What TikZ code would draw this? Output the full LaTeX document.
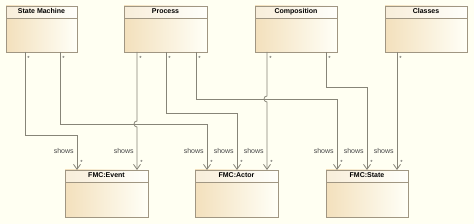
\documentclass[tikz,border=0pt]{standalone}
\usepackage{fontspec}
\setsansfont{Liberation Sans}
\usepackage{tikz}
\usetikzlibrary{arrows.meta}
\definecolor{paper}{RGB}{255,255,242}
\definecolor{boxtan}{RGB}{243,224,188}
\definecolor{boxline}{RGB}{160,150,130}
\definecolor{wire}{RGB}{135,133,120}
\definecolor{labelgray}{RGB}{70,70,70}

\begin{document}
\begin{tikzpicture}[x=1pt, y=1pt,
  cls/.style={rectangle, draw=boxline, line width=0.8pt, left color=boxtan, right color=paper!60!white,
    minimum height=46pt, inner sep=0pt, outer sep=0pt,
    path picture={
      \fill[white, opacity=0.45] (path picture bounding box.north west) rectangle ([yshift=-12pt]path picture bounding box.north east);
      \draw[boxline, line width=0.8pt] ([yshift=-12pt]path picture bounding box.north west) -- ([yshift=-12pt]path picture bounding box.north east);
    }},
  title/.style={anchor=north, inner sep=2pt, font=\sffamily\bfseries\fontsize{7}{8}\selectfont},
  shows/.style={-{Straight Barb[length=5pt, width=7pt]}, wire, line width=0.8pt},
  srcmul/.style={anchor=north west, inner sep=0pt, xshift=2pt, yshift=-4pt, font=\sffamily\fontsize{6}{6}\selectfont, text=labelgray},
  tgtmul/.style={anchor=south west, inner sep=0pt, xshift=3pt, yshift=5pt, font=\sffamily\fontsize{6}{6}\selectfont, text=labelgray},
  lbl/.style={anchor=east, inner sep=0pt, xshift=-3pt, yshift=19pt, font=\sffamily\fontsize{7}{8}\selectfont, text=labelgray}
]
\fill[paper] (0,0) rectangle (474,224);
\useasboundingbox (0,0) rectangle (474,224);

% source classes
\node[cls, minimum width=71pt, label={[title]north:State Machine}] (machine) at (41.5,195) {};
\node[cls, minimum width=83pt, label={[title]north:Process}] (process) at (165.5,195) {};
\node[cls, minimum width=82pt, label={[title]north:Composition}] (composition) at (296,195) {};
\node[cls, minimum width=82pt, label={[title]north:Classes}] (classes) at (426,195) {};

% FMC elements
\node[cls, minimum width=83pt, minimum height=47pt, label={[title]north:FMC:Event}] (event) at (106.5,30.5) {};
\node[cls, minimum width=83pt, minimum height=47pt, label={[title]north:FMC:Actor}] (actor) at (236.5,30.5) {};
\node[cls, minimum width=82pt, minimum height=47pt, label={[title]north:FMC:State}] (state) at (367,30.5) {};

% associations
\draw[shows] ([xshift=19pt]machine.south west) node[srcmul]{*} -- ++(0,-83) -| ([xshift=12pt]event.north west) node[tgtmul]{*} node[lbl]{shows};
\draw[shows] ([xshift=54pt]machine.south west) node[srcmul]{*} -- ++(0,-72) -| ([xshift=12pt]actor.north west) node[tgtmul]{*} node[lbl]{shows};
\draw[shows] ([xshift=13pt]process.south west) node[srcmul]{*} -- ++(0,-69) arc[start angle=90, end angle=270, radius=3] -- ([xshift=72pt]event.north west) node[tgtmul]{*} node[lbl]{shows};
\draw[shows] ([xshift=42pt]process.south west) node[srcmul]{*} -- ++(0,-61) -| ([xshift=42pt]actor.north west) node[tgtmul]{*} node[lbl]{shows};
\draw[shows] ([xshift=72pt]process.south west) node[srcmul]{*} -- ++(0,-47) -| ([xshift=11pt]state.north west) node[tgtmul]{*} node[lbl]{shows};
\draw[shows] ([xshift=12pt]composition.south west) node[srcmul]{*} -- ++(0,-44) arc[start angle=90, end angle=270, radius=3] -- ([xshift=72pt]actor.north west) node[tgtmul]{*} node[lbl]{shows};
\draw[shows] ([xshift=71pt]composition.south west) node[srcmul]{*} -- ++(0,-35) -| ([xshift=41pt]state.north west) node[tgtmul]{*} node[lbl]{shows};
\draw[shows] ([xshift=12pt]classes.south west) node[srcmul]{*} -- ([xshift=71pt]state.north west) node[tgtmul]{*} node[lbl]{shows};
\end{tikzpicture}
\end{document}
